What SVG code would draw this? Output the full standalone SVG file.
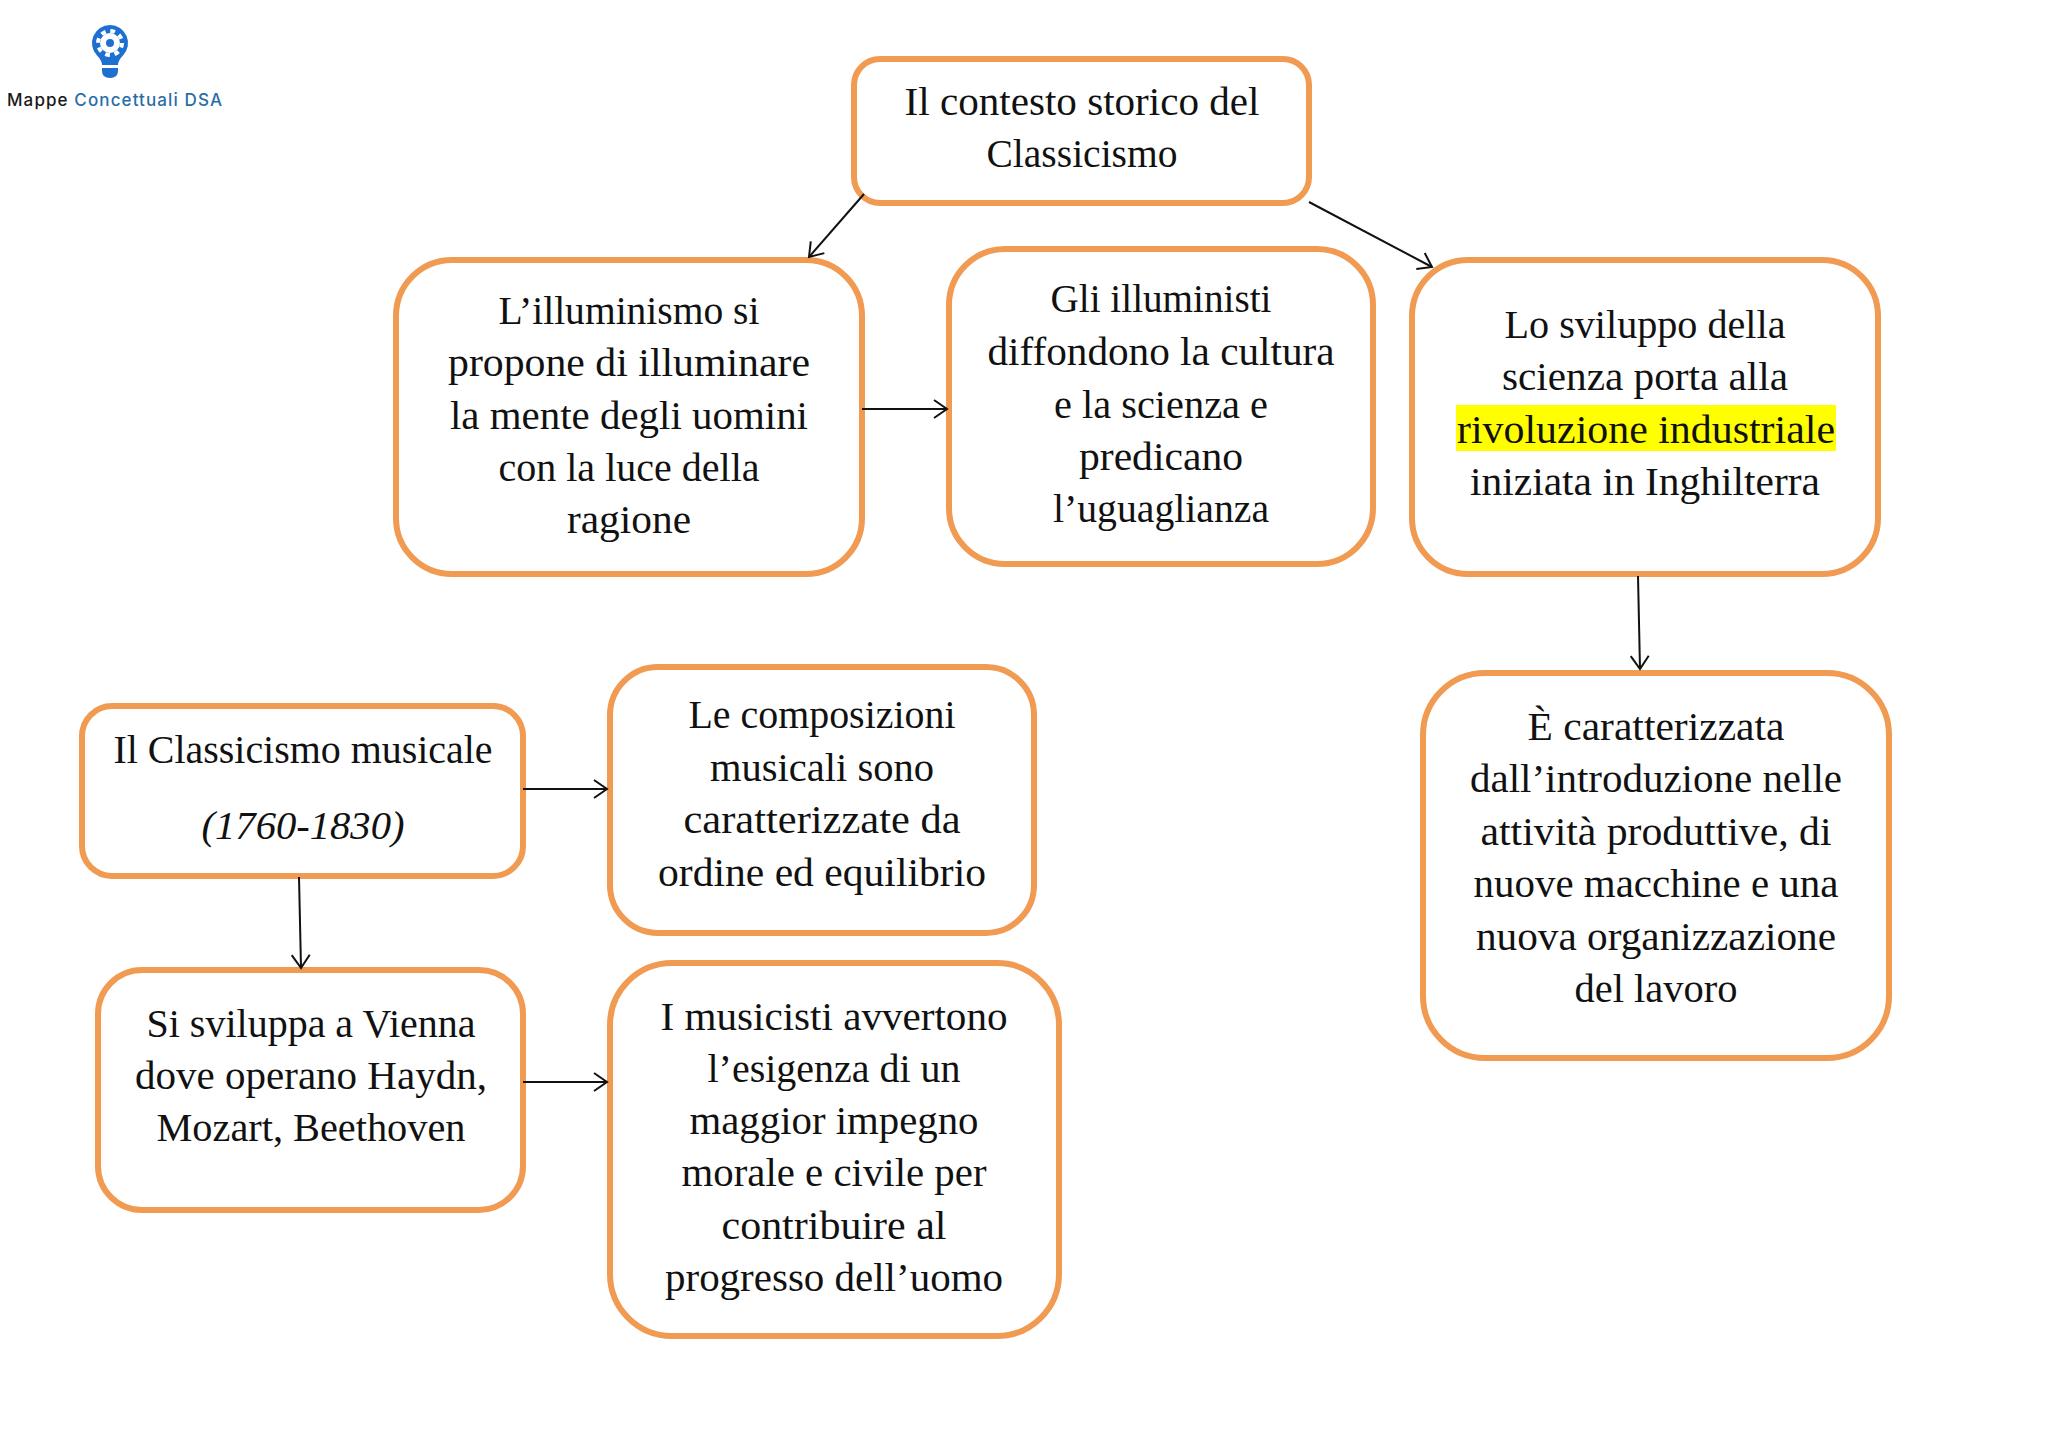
<svg xmlns="http://www.w3.org/2000/svg" width="2048" height="1448" viewBox="0 0 2048 1448">
<style>
.b{fill:#fff;stroke:#F09A52;stroke-width:6}
.t{font-family:"Liberation Serif",serif;font-size:39px;fill:#111;text-anchor:middle}
.c{fill:none;stroke:#111;stroke-width:2;marker-end:url(#a)}
</style>
<defs><marker id="a" markerUnits="userSpaceOnUse" markerWidth="24" markerHeight="24" refX="20" refY="12" orient="auto"><path d="M7 3L20 12L7 21" fill="none" stroke="#111" stroke-width="2"/></marker></defs>
<rect width="2048" height="1448" fill="#fff"/>
<g id="logo">
<path d="M110 25a18 18 0 0 1 13 30.500q-5 5-5 9.500h-16q0-4.500-5-9.500a18 18 0 0 1 13-30.500z" fill="#1F6FD0"/>
<circle cx="110" cy="43" r="10" fill="#fff"/>
<circle cx="110" cy="43" r="12" fill="none" stroke="#fff" stroke-width="4" stroke-dasharray="4.700 4.720"/>
<circle cx="110" cy="43" r="4" fill="#1F6FD0"/>
<path d="M102 68h16v3q0 7-8 7t-8-7z" fill="#1F6FD0"/>
<text x="7" y="106" font-family="Inter,sans-serif" font-size="17px" font-weight="500" textLength="215" fill="#1a1a1a">Mappe <tspan fill="#2A6DA8">Concettuali DSA</tspan></text>
</g>
<g id="n1"><rect class="b" x="854" y="59" width="455" height="144" rx="26"/>
<text class="t" x="1082" y="115" textLength="355" lengthAdjust="spacingAndGlyphs">Il contesto storico del</text>
<text class="t" x="1082" y="167" textLength="191" lengthAdjust="spacingAndGlyphs">Classicismo</text></g>
<g id="n2"><rect class="b" x="396" y="260" width="466" height="314" rx="56"/>
<text class="t" x="629" y="324" textLength="261" lengthAdjust="spacingAndGlyphs">L’illuminismo si</text>
<text class="t" x="629" y="376" textLength="362" lengthAdjust="spacingAndGlyphs">propone di illuminare</text>
<text class="t" x="629" y="429" textLength="358" lengthAdjust="spacingAndGlyphs">la mente degli uomini</text>
<text class="t" x="629" y="481" textLength="261" lengthAdjust="spacingAndGlyphs">con la luce della</text>
<text class="t" x="629" y="533" textLength="124" lengthAdjust="spacingAndGlyphs">ragione</text></g>
<g id="n3"><rect class="b" x="949" y="249" width="424" height="315" rx="56"/>
<text class="t" x="1161" y="312" textLength="221" lengthAdjust="spacingAndGlyphs">Gli illuministi</text>
<text class="t" x="1161" y="365" textLength="347" lengthAdjust="spacingAndGlyphs">diffondono la cultura</text>
<text class="t" x="1161" y="418" textLength="214" lengthAdjust="spacingAndGlyphs">e la scienza e</text>
<text class="t" x="1161" y="470" textLength="164" lengthAdjust="spacingAndGlyphs">predicano</text>
<text class="t" x="1161" y="522" textLength="216" lengthAdjust="spacingAndGlyphs">l’uguaglianza</text></g>
<g id="n4"><rect class="b" x="1412" y="260" width="466" height="314" rx="56"/>
<rect x="1456" y="405" width="380" height="46" fill="#FFFF00"/>
<text class="t" x="1645" y="338" textLength="281" lengthAdjust="spacingAndGlyphs">Lo sviluppo della</text>
<text class="t" x="1645" y="390" textLength="286" lengthAdjust="spacingAndGlyphs">scienza porta alla</text>
<text class="t" x="1646" y="443" textLength="378" lengthAdjust="spacingAndGlyphs">rivoluzione industriale</text>
<text class="t" x="1645" y="495" textLength="350" lengthAdjust="spacingAndGlyphs">iniziata in Inghilterra</text></g>
<g id="n5"><rect class="b" x="1423" y="673" width="466" height="385" rx="62"/>
<text class="t" x="1656" y="740" textLength="257" lengthAdjust="spacingAndGlyphs">È caratterizzata</text>
<text class="t" x="1656" y="792" textLength="372" lengthAdjust="spacingAndGlyphs">dall’introduzione nelle</text>
<text class="t" x="1656" y="845" textLength="351" lengthAdjust="spacingAndGlyphs">attività produttive, di</text>
<text class="t" x="1656" y="897" textLength="365" lengthAdjust="spacingAndGlyphs">nuove macchine e una</text>
<text class="t" x="1656" y="950" textLength="360" lengthAdjust="spacingAndGlyphs">nuova organizzazione</text>
<text class="t" x="1656" y="1002" textLength="163" lengthAdjust="spacingAndGlyphs">del lavoro</text></g>
<g id="n6"><rect class="b" x="82" y="706" width="441" height="170" rx="30"/>
<text class="t" x="303" y="763" textLength="379" lengthAdjust="spacingAndGlyphs">Il Classicismo musicale</text>
<text class="t" x="303" y="839" font-style="italic" textLength="203" lengthAdjust="spacingAndGlyphs">(1760-1830)</text></g>
<g id="n7"><rect class="b" x="610" y="667" width="424" height="266" rx="48"/>
<text class="t" x="822" y="728" textLength="267" lengthAdjust="spacingAndGlyphs">Le composizioni</text>
<text class="t" x="822" y="781" textLength="224" lengthAdjust="spacingAndGlyphs">musicali sono</text>
<text class="t" x="822" y="833" textLength="277" lengthAdjust="spacingAndGlyphs">caratterizzate da</text>
<text class="t" x="822" y="886" textLength="328" lengthAdjust="spacingAndGlyphs">ordine ed equilibrio</text></g>
<g id="n8"><rect class="b" x="98" y="970" width="425" height="240" rx="44"/>
<text class="t" x="311" y="1037" textLength="329" lengthAdjust="spacingAndGlyphs">Si sviluppa a Vienna</text>
<text class="t" x="311" y="1089" textLength="352" lengthAdjust="spacingAndGlyphs">dove operano Haydn,</text>
<text class="t" x="311" y="1141" textLength="309" lengthAdjust="spacingAndGlyphs">Mozart, Beethoven</text></g>
<g id="n9"><rect class="b" x="610" y="963" width="449" height="373" rx="62"/>
<text class="t" x="834" y="1030" textLength="347" lengthAdjust="spacingAndGlyphs">I musicisti avvertono</text>
<text class="t" x="834" y="1082" textLength="253" lengthAdjust="spacingAndGlyphs">l’esigenza di un</text>
<text class="t" x="834" y="1134" textLength="289" lengthAdjust="spacingAndGlyphs">maggior impegno</text>
<text class="t" x="834" y="1186" textLength="305" lengthAdjust="spacingAndGlyphs">morale e civile per</text>
<text class="t" x="834" y="1239" textLength="225" lengthAdjust="spacingAndGlyphs">contribuire al</text>
<text class="t" x="834" y="1291" textLength="338" lengthAdjust="spacingAndGlyphs">progresso dell’uomo</text></g>
<g id="connectors">
<path class="c" d="M864 194L809 257"/>
<path class="c" d="M1309 202L1432 267"/>
<path class="c" d="M862 409L947 409"/>
<path class="c" d="M1638 576L1640 669"/>
<path class="c" d="M523 789L607 789"/>
<path class="c" d="M299 877L301 968"/>
<path class="c" d="M523 1082L607 1082"/>
</g>
</svg>
